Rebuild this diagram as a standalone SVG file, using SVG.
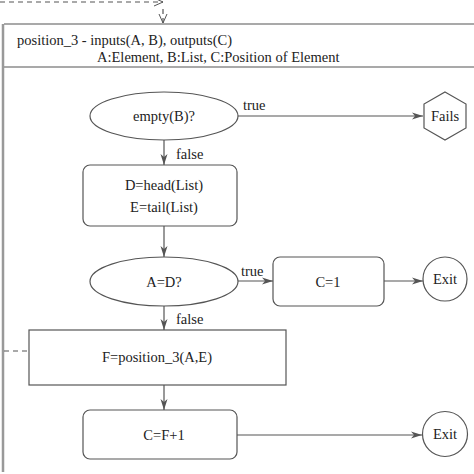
<svg xmlns="http://www.w3.org/2000/svg" width="474" height="474" viewBox="0 0 474 474">
<style>
text{font-family:"Liberation Serif","Times New Roman",serif;font-size:14.5px;fill:#222}
.c{text-anchor:middle}
.s{fill:#fff;stroke:#555;stroke-width:1.2}
.e{stroke:#555;stroke-width:1.2;fill:none}
.d{stroke:#555;stroke-width:1.2;fill:none;stroke-dasharray:5,4}
</style>
<defs>
<marker id="a" markerWidth="12" markerHeight="8" refX="11" refY="4" orient="auto" markerUnits="userSpaceOnUse">
<path d="M0,0.5 L11,4 L0,7.5 L3,4 Z" fill="#555"/>
</marker>
<marker id="o" markerWidth="10" markerHeight="10" refX="9" refY="5" orient="auto" markerUnits="userSpaceOnUse">
<path d="M0,1 L9,5 L0,9" fill="none" stroke="#555" stroke-width="1"/>
</marker>
</defs>
<rect width="474" height="474" fill="#fff"/>
<g id="frame">
<line x1="4" y1="24" x2="474" y2="24" stroke="#555" stroke-width="1.2"/>
<line x1="4" y1="67" x2="474" y2="67" stroke="#555" stroke-width="1.2"/>
<line x1="3" y1="24" x2="3" y2="472" stroke="#999" stroke-width="2.5"/>
<text x="17" y="45">position_3 - inputs(A, B), outputs(C)</text>
<text x="97" y="62">A:Element, B:List, C:Position of Element</text>
</g>
<g id="connectors">
<line class="d" x1="0" y1="2" x2="163" y2="2" marker-end="url(#o)"/>
<line class="d" x1="163" y1="9" x2="163" y2="23" marker-end="url(#o)"/>
<line class="d" x1="4" y1="351" x2="29" y2="351"/>
<line class="e" x1="238" y1="116" x2="423" y2="116" marker-end="url(#a)"/>
<line class="e" x1="164" y1="140" x2="164" y2="165" marker-end="url(#a)"/>
<line class="e" x1="164" y1="226" x2="164" y2="257" marker-end="url(#a)"/>
<line class="e" x1="238" y1="281" x2="273" y2="281" marker-end="url(#a)"/>
<line class="e" x1="384" y1="281" x2="423" y2="281" marker-end="url(#a)"/>
<line class="e" x1="164" y1="306" x2="164" y2="330" marker-end="url(#a)"/>
<line class="e" x1="164" y1="385" x2="164" y2="410" marker-end="url(#a)"/>
<line class="e" x1="237" y1="435" x2="422" y2="435" marker-end="url(#a)"/>
<text x="243" y="110">true</text>
<text x="176" y="159">false</text>
<text x="241" y="276">true</text>
<text x="176" y="324">false</text>
</g>
<g id="empty">
<ellipse class="s" cx="164" cy="116" rx="74" ry="24"/>
<text class="c" x="164" y="121">empty(B)?</text>
</g>
<g id="fails">
<polygon class="s" points="445,92 466,104 466,128 445,140 424,128 424,104"/>
<text class="c" x="445" y="121">Fails</text>
</g>
<g id="headtail">
<rect class="s" x="83" y="165" width="154" height="61" rx="7"/>
<text class="c" x="164" y="190">D=head(List)</text>
<text class="c" x="164" y="212">E=tail(List)</text>
</g>
<g id="aeqd">
<ellipse class="s" cx="164" cy="281.5" rx="74" ry="24.5"/>
<text class="c" x="164" y="287">A=D?</text>
</g>
<g id="c1">
<rect class="s" x="273" y="257" width="111" height="49" rx="7"/>
<text class="c" x="328" y="287">C=1</text>
</g>
<g id="exit1">
<circle class="s" cx="445" cy="279" r="22"/>
<text class="c" x="445" y="284">Exit</text>
</g>
<g id="recurse">
<rect class="s" x="29" y="330" width="257" height="55"/>
<text class="c" x="157" y="362">F=position_3(A,E)</text>
</g>
<g id="cf1">
<rect class="s" x="83" y="410" width="154" height="49" rx="7"/>
<text class="c" x="164" y="440">C=F+1</text>
</g>
<g id="exit2">
<circle class="s" cx="445" cy="434" r="22.5"/>
<text class="c" x="445" y="439">Exit</text>
</g>
</svg>
